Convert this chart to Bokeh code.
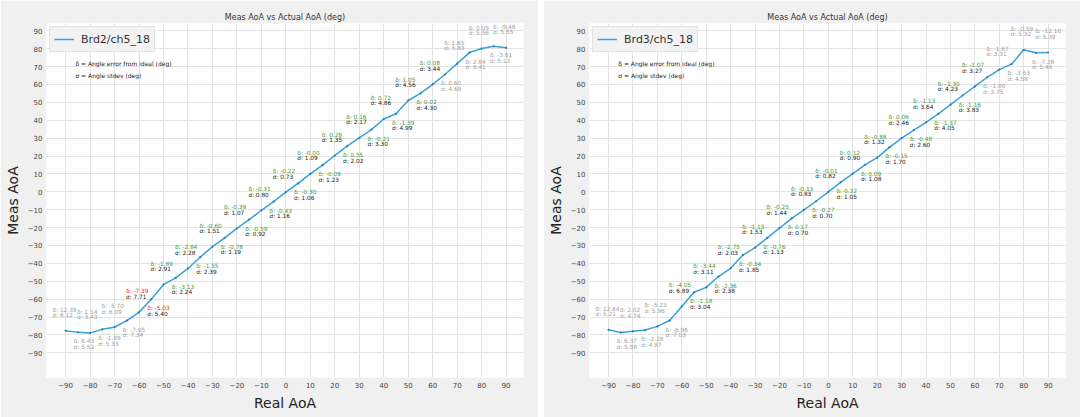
from bokeh.plotting import figure
from bokeh.models import ColumnDataSource, Range1d, FixedTicker, Legend, LegendItem, Label, Spacer
from bokeh.layouts import row
from bokeh.embed import file_html
from bokeh.resources import INLINE
from bokeh.core.properties import value

# ---------------- data ----------------
real_aoa = [-90, -85, -80, -75, -70, -65, -60, -55, -50, -45, -40, -35, -30, -25, -20, -15, -10, -5,
            0, 5, 10, 15, 20, 25, 30, 35, 40, 45, 50, 55, 60, 65, 70, 75, 80, 85, 90]

brd2_meas = [-77.61, -78.57, -78.86, -76.89, -75.70, -72.05, -67.39, -60.03, -51.89, -48.13,
             -42.84, -36.55, -30.60, -25.78, -20.39, -15.59, -10.31, -5.43, -0.22, 4.70,
             10.00, 14.91, 20.29, 25.55, 30.16, 34.79, 40.72, 43.61, 51.05, 55.02,
             60.08, 65.60, 71.65, 77.84, 80.09, 81.39, 80.52]
brd2_delta = [12.39, 6.43, 1.14, -1.89, -5.70, -7.05, -7.39, -5.03, -1.89, -3.13,
              -2.84, -1.55, -0.60, -0.78, -0.39, -0.59, -0.31, -0.43, -0.22, -0.30,
              -0.0, -0.09, 0.29, 0.55, 0.16, -0.21, 0.72, -1.39, 1.05, 0.02,
              0.08, 0.60, 1.65, 2.84, 0.09, -3.61, -9.48]
brd2_sigma = [6.12, 5.52, 3.43, 5.33, 6.09, 7.34, 7.71, 5.40, 2.91, 2.24,
              2.28, 2.39, 1.51, 1.19, 1.07, 0.92, 0.80, 1.16, 0.73, 1.06,
              1.09, 1.23, 1.35, 2.02, 2.17, 3.30, 4.86, 4.99, 4.56, 4.30,
              3.44, 4.69, 5.83, 6.41, 5.56, 5.12, 5.55]

brd3_meas = [-77.16, -78.63, -77.98, -77.28, -75.23, -71.96, -64.05, -56.18, -53.44, -47.36,
             -42.75, -35.34, -31.15, -25.76, -20.25, -14.83, -10.13, -5.27, -0.01, 5.32,
             10.12, 15.09, 19.12, 24.85, 30.06, 34.52, 38.87, 43.63, 48.70, 53.84,
             58.93, 64.00, 68.33, 71.37, 79.41, 77.72, 77.90]
brd3_delta = [12.84, 6.37, 2.02, -2.28, -5.23, -6.96, -4.05, -1.18, -3.44, -2.36,
              -2.75, -0.34, -1.15, -0.76, -0.25, 0.17, -0.13, -0.27, -0.01, 0.32,
              0.12, 0.09, -0.88, -0.15, 0.06, -0.48, -1.13, -1.37, -1.30, -1.16,
              -1.07, -1.00, -1.67, -3.63, -0.59, -7.28, -12.10]
brd3_sigma = [5.21, 5.98, 4.74, 4.87, 5.96, 7.03, 6.89, 3.04, 3.11, 2.38,
              2.03, 1.85, 1.53, 1.13, 1.44, 0.70, 0.83, 0.70, 0.82, 1.05,
              0.90, 1.08, 1.32, 1.70, 2.46, 2.60, 3.64, 4.05, 4.23, 3.83,
              3.27, 3.75, 3.31, 4.58, 5.32, 5.46, 5.39]

tick_values = [-90, -80, -70, -60, -50, -40, -30, -20, -10, 0, 10, 20, 30, 40, 50, 60, 70, 80, 90]
tick_labels = ["\u221290", "\u221280", "\u221270", "\u221260", "\u221250", "\u221240", "\u221230",
               "\u221220", "\u221210", "0", "10", "20", "30", "40", "50", "60", "70", "80", "90"]

title_text = "Meas AoA vs Actual AoA (deg)"
note_delta = "\u03b4 = Angle error from ideal (deg)"
note_sigma = "\u03c3 = Angle stdev (deg)"

FONT = "DejaVu Sans"
GRAY = "#a0a0a0"
GREEN = "#4a9a3a"
RED = "#e5322d"
BLACK = "#1a1a1a"
LINE = "#3aa0d8"


def delta_color(x, d):
    if abs(x) > 60:
        return GRAY
    return RED if abs(d) > 5 else GREEN


def sigma_color(x):
    return GRAY if abs(x) > 60 else BLACK


def make_panel(name, meas, delta, sigma, width):
    p = figure(width=width, height=417,
               x_range=Range1d(-97.8, 97.1), y_range=Range1d(-103.8, 94.1),
               output_backend="svg", toolbar_location=None,
               min_border_left=46, min_border_right=15, min_border_top=23, min_border_bottom=40,
               title=title_text)
    p.border_fill_color = "#f0f0f0"
    p.background_fill_color = "#ffffff"
    p.outline_line_color = None
    p.title.align = "center"
    p.title.text_font = FONT
    p.title.text_font_size = "8px"
    p.title.text_font_style = "normal"
    p.title.text_color = "#333333"
    p.title.standoff = 4

    for ax in (p.xaxis[0], p.yaxis[0]):
        ax.ticker = FixedTicker(ticks=tick_values)
        ax.major_label_overrides = dict(zip(tick_values, tick_labels))
        ax.major_tick_in = 0
        ax.major_tick_out = 0
        ax.minor_tick_in = 0
        ax.minor_tick_out = 0
        ax.axis_line_color = None
        ax.major_label_text_font = FONT
        ax.major_label_text_font_size = "7px"
        ax.major_label_text_color = "#444444"
        ax.major_label_standoff = 4
        ax.axis_label_text_font = FONT
        ax.axis_label_text_font_size = "14px"
        ax.axis_label_text_font_style = "normal"
        ax.axis_label_text_color = "#222222"
        ax.axis_label_standoff = 4
    p.xaxis[0].axis_label = "Real AoA"
    p.yaxis[0].axis_label = "Meas AoA"
    p.grid.grid_line_color = "#e3e3e3"
    p.grid.grid_line_width = 1

    src = ColumnDataSource(dict(x=real_aoa, y=meas))
    r_line = p.line(x="x", y="y", source=src, line_color=LINE, line_width=1.5)
    p.scatter(x="x", y="y", source=src, size=2.2, line_width=0, fill_color="#2b7fb0")

    dt = ["\u03b4: %.2f" % d for d in delta]
    st = ["\u03c3: %.2f" % s for s in sigma]
    dc = [delta_color(x, d) for x, d in zip(real_aoa, delta)]
    sc = [sigma_color(x) for x in real_aoa]

    def sub(idx):
        return ColumnDataSource(dict(x=[real_aoa[i] for i in idx], y=[meas[i] for i in idx],
                                     dt=[dt[i] for i in idx], st=[st[i] for i in idx],
                                     dc=[dc[i] for i in idx], sc=[sc[i] for i in idx]))

    above = sub([i for i in range(len(real_aoa)) if i % 2 == 0])
    below = sub([i for i in range(len(real_aoa)) if i % 2 == 1])
    common = dict(text_font=value(FONT), text_font_size="5.8px", text_align="left")
    p.text(x="x", y="y", text="dt", source=above, text_color="dc", text_baseline="bottom",
           x_offset=-13, y_offset=-18, **common)
    p.text(x="x", y="y", text="st", source=above, text_color="sc", text_baseline="bottom",
           x_offset=-13, y_offset=-12.5, **common)
    p.text(x="x", y="y", text="dt", source=below, text_color="dc", text_baseline="top",
           x_offset=-4, y_offset=6, **common)
    p.text(x="x", y="y", text="st", source=below, text_color="sc", text_baseline="top",
           x_offset=-4, y_offset=11.5, **common)

    for yy, txt in ((71.5, note_delta), (64.8, note_sigma)):
        p.add_layout(Label(x=-86, y=yy, text=txt, text_font=FONT, text_font_size="6px",
                           text_baseline="middle", text_color="#222222"))

    legend = Legend(items=[LegendItem(label=name, renderers=[r_line])], location="top_left")
    legend.label_text_font = FONT
    legend.label_text_font_size = "11px"
    legend.label_text_color = "#333333"
    legend.background_fill_color = "#f2f2f2"
    legend.background_fill_alpha = 1.0
    legend.border_line_color = "#d5d5d5"
    legend.margin = 3
    legend.padding = 4
    legend.glyph_width = 20
    legend.glyph_height = 16
    legend.label_height = 16
    legend.label_standoff = 7
    p.add_layout(legend)
    return p


p1 = make_panel("Brd2/ch5_18", brd2_meas, brd2_delta, brd2_sigma, 538)
p2 = make_panel("Brd3/ch5_18", brd3_meas, brd3_delta, brd3_sigma, 537)
layout = row(p1, Spacer(width=5, height=417), p2)

with open("out.html", "w") as f:
    f.write(file_html(layout, INLINE))
